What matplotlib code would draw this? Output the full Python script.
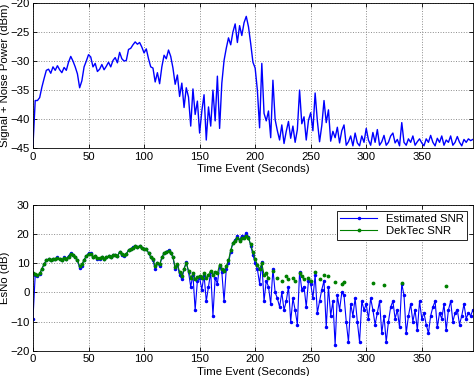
import numpy as np
import matplotlib
matplotlib.use('Agg')
import matplotlib.pyplot as plt

nan = np.nan

# time axis (seconds), one sample every 2 s
time_s = np.arange(0, 397, 2)

# Signal + noise power (dBm)
power_dbm = [
    -44.5, -36.8, -36.8, -36.3, -34.5, -33.0, -31.6, -31.4, -32.1, -31.0,
    -31.6, -30.8, -31.5, -32.0, -31.1, -31.6, -30.2, -29.2, -30.0, -31.0,
    -32.2, -34.6, -33.4, -31.0, -30.0, -28.9, -29.3, -31.0, -30.4, -31.8,
    -31.4, -30.6, -31.5, -30.9, -30.2, -31.0, -29.9, -29.4, -30.3, -28.5,
    -29.6, -30.0, -29.9, -28.0, -27.8, -27.2, -26.7, -27.1, -26.8, -27.6,
    -28.6, -27.9, -29.6, -31.0, -31.2, -33.6, -32.0, -33.9, -31.0, -29.0,
    -29.6, -28.1, -29.2, -31.2, -34.0, -32.4, -36.1, -33.8, -38.0, -34.6,
    -36.2, -41.2, -34.8, -39.2, -36.9, -42.4, -38.6, -35.8, -43.6, -37.9,
    -41.2, -35.0, -40.3, -32.6, -41.6, -33.8, -29.9, -27.8, -26.0, -27.2,
    -25.0, -23.6, -26.8, -23.9, -25.6, -23.4, -22.3, -24.1, -27.0, -30.2,
    -31.2, -35.0, -41.5, -30.4, -39.0, -40.3, -38.6, -43.2, -33.3, -40.1,
    -42.0, -43.6, -41.0, -44.2, -42.1, -40.4, -43.3, -41.2, -44.0, -41.8,
    -35.0, -40.8, -39.6, -43.6, -40.2, -38.9, -42.0, -35.5, -40.3, -43.9,
    -41.1, -36.8, -40.6, -38.4, -43.8, -42.1, -43.2, -41.4, -44.1, -42.0,
    -41.0, -44.5, -43.9, -42.9, -44.6, -42.4, -44.1, -44.6, -42.9, -44.0,
    -41.6, -43.6, -44.5, -42.3, -44.0, -41.8, -44.5, -43.9, -42.8, -44.5,
    -44.0, -42.9, -42.4, -44.1, -43.5, -44.6, -40.6, -44.0, -44.5, -43.4,
    -44.0, -42.9, -44.5, -43.9, -43.4, -44.1, -44.6, -43.4, -44.0, -42.8,
    -44.0, -44.6, -43.3, -44.0, -42.9, -44.5, -43.6, -44.0, -42.9, -44.5,
    -44.0, -43.0, -44.0, -44.6, -43.5, -44.0, -43.4, -43.7, -43.5,
]

# Estimated SNR (dB)
est_snr = [
    -9.0, 6.0, 5.6, 6.2, 8.0, 9.6, 11.0, 11.5, 11.0, 11.6,
    11.4, 12.0, 11.5, 11.0, 12.0, 11.6, 12.5, 13.5, 13.0, 12.0,
    11.0, 8.4, 9.2, 11.2, 12.5, 13.5, 13.4, 12.0, 12.6, 11.5,
    11.6, 12.0, 11.4, 12.0, 12.5, 12.0, 13.0, 13.0, 12.4, 14.0,
    13.0, 12.6, 13.2, 14.6, 15.0, 15.5, 16.0, 15.5, 16.0, 15.4,
    15.0, 15.0, 13.5, 12.0, 11.0, 8.0, 10.0, 9.0, 12.0, 13.5,
    14.0, 14.5, 13.5, 12.0, 8.0, 9.5, 6.0, 4.5, 8.0, 10.5,
    7.0, 2.0, 6.0, -6.0, 4.0, 5.0, 1.0, 6.0, -3.0, 2.0,
    7.0, -8.0, 5.0, 3.0, 9.0, 7.0, -3.0, 8.0, 10.0, 14.0,
    17.0, 18.0, 19.5, 18.0, 19.5, 19.0, 20.5, 19.0, 16.0, 13.0,
    10.0, 8.0, 3.0, 10.5, -3.0, 4.0, 2.0, -4.0, 8.0, 0.0,
    -2.0, -5.0, 0.0, -6.0, -3.0, 2.0, -10.0, -2.0, -6.0, -11.0,
    7.0, 1.0, 2.0, -5.0, 4.0, 3.0, -2.0, 6.0, -7.0, -3.0,
    1.0, 4.0, -12.0, 2.0, -8.0, -3.0, -18.0, -1.0, -6.0, 0.0,
    -1.0, -10.0, -17.0, -4.0, -8.0, -2.0, -10.0, -17.0, -3.0, -6.0,
    -4.0, -9.0, -2.0, -6.0, -11.0, -7.0, -3.0, -14.0, -8.0, -17.0,
    -10.0, -5.0, -3.0, -9.0, -6.0, -12.0, 3.0, -1.0, -14.0, -8.0,
    -4.0, -10.0, -6.0, -13.0, -3.0, -9.0, -7.0, -11.0, -14.0, -8.0,
    -5.0, -3.0, -12.0, -7.0, -9.0, -4.0, -13.0, -6.0, -3.0, -10.0,
    -7.0, -6.0, -11.0, -8.0, -4.0, -9.0, -7.0, -8.0, -6.0,
]

# DekTec SNR (dB), gaps where no reading
dektec_snr = [
    6.5, 6.2, 6.0, 6.5, 8.2, 9.8, 11.0, 11.3, 11.0, 11.4,
    11.4, 11.8, 11.5, 11.2, 11.8, 11.6, 12.3, 13.3, 13.0, 12.2,
    11.2, 9.0, 9.6, 11.2, 12.4, 13.3, 13.2, 12.2, 12.5, 11.7,
    11.7, 12.0, 11.6, 12.0, 12.4, 12.1, 12.8, 13.0, 12.6, 13.8,
    13.1, 12.8, 13.2, 14.4, 14.9, 15.3, 15.8, 15.5, 15.8, 15.4,
    15.0, 14.8, 13.6, 12.2, 11.4, 9.0, 10.2, 9.6, 12.0, 13.4,
    13.9, 14.2, 13.6, 12.2, 8.6, 9.8, 7.0, 5.5, 8.2, 10.0,
    7.5, 5.0, 6.5, 4.5, 5.2, 5.8, 4.8, 6.5, 5.0, 6.0,
    7.5, 6.0, 7.0, 6.5, 9.5, 8.0, 7.5, 9.0, 11.0, 14.5,
    17.0, 17.8, 18.5, 17.8, 18.8, 18.5, 19.5, 18.5, 16.5, 13.8,
    11.5, 9.5, 8.0, 10.0, 6.0, 6.5, 5.0, nan, 7.5, nan,
    5.0, nan, 4.0, nan, 5.5, 4.5, nan, 5.0, 4.0, nan,
    6.5, 5.5, 4.5, nan, 5.0, 4.0, nan, 7.0, nan, 4.5,
    nan, 6.0, nan, 5.5, nan, nan, 3.5, nan, nan, 3.0,
    3.5, nan, nan, nan, nan, nan, nan, nan, nan, nan,
    nan, nan, nan, 3.2, nan, nan, nan, nan, 2.6, nan,
    nan, nan, nan, nan, nan, nan, 3.2, nan, nan, nan,
    nan, nan, nan, nan, nan, nan, nan, nan, nan, nan,
    nan, nan, nan, nan, nan, nan, 2.2, nan, nan, nan,
    nan, nan, nan, nan, nan, nan, nan, nan, nan,
]

plt.rcParams['font.family'] = ['Liberation Sans', 'DejaVu Sans']
plt.rcParams['font.size'] = 8.2

fig = plt.figure(figsize=(4.74, 3.76), dpi=100)
ax1 = fig.add_axes([0.0696, 0.606, 0.928, 0.386])
ax2 = fig.add_axes([0.0696, 0.067, 0.928, 0.388])


def style_axes(ax):
    ax.grid(True, linestyle=':', color='0.55', linewidth=0.7)
    ax.tick_params(direction='in', top=True, right=True, length=3, width=0.6, pad=2.5)
    for sp in ax.spines.values():
        sp.set_linewidth(0.6)
    ax.set_xlim(0, 396)
    ax.set_xticks(np.arange(0, 351, 50))
    ax.set_xlabel('Time Event (Seconds)', labelpad=2)


# top: received power
ax1.plot(time_s, power_dbm, '-', color='#0000ff', linewidth=1.0)
ax1.set_ylim(-45, -20)
ax1.set_yticks(np.arange(-45, -19, 5))
ax1.set_ylabel('Signal + Noise Power (dBm)', labelpad=0)
style_axes(ax1)

# bottom: SNR comparison
ax2.plot(time_s, est_snr, '.-', color='#0000ff', linewidth=0.8, markersize=3,
         label='Estimated SNR')
ax2.plot(time_s, dektec_snr, '.-', color='#008000', linewidth=0.8, markersize=3.5,
         label='DekTec SNR')
ax2.set_ylim(-20, 30)
ax2.set_yticks(np.arange(-20, 31, 10))
ax2.set_ylabel('EsNo (dB)', labelpad=0)
style_axes(ax2)
leg = ax2.legend(loc='upper right', fancybox=False, framealpha=1, edgecolor='black',
                 borderpad=0.3, labelspacing=0.2, handlelength=3.2, borderaxespad=0.5)
leg.get_frame().set_linewidth(0.6)

fig.savefig('out.png', dpi=100)
